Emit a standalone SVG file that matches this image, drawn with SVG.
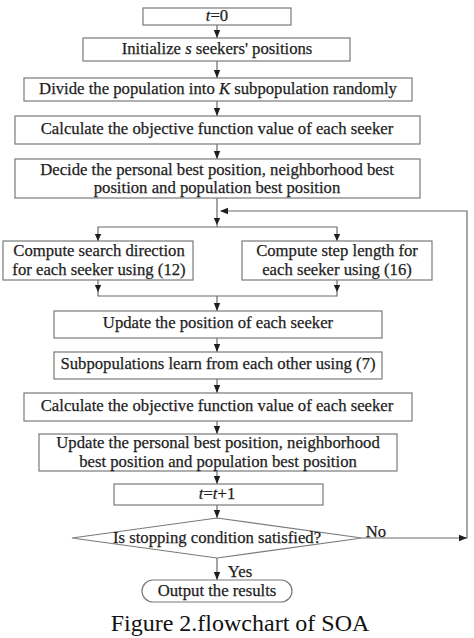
<svg xmlns="http://www.w3.org/2000/svg" width="474" height="638" viewBox="0 0 474 638">
<defs>
<style>
.box{fill:#fff;stroke:#7a7a7a;stroke-width:1.2}
.t{font-family:"Liberation Serif","Times New Roman",serif;font-size:16.7px;fill:#1e1e1e;stroke:#1e1e1e;stroke-width:0.25;text-anchor:middle}
.i{font-style:italic}
.ln{fill:none;stroke:#6a6a6a;stroke-width:1.2}
.ah{fill:#1e1e1e}
</style>
<marker id="arr" viewBox="0 0 8 8" refX="8" refY="4" markerWidth="8" markerHeight="8" markerUnits="userSpaceOnUse" orient="auto">
<path d="M0,0.8 L8,4 L0,7.2 Z" fill="#1e1e1e"/>
</marker>
</defs>
<rect width="474" height="638" fill="#fff"/>

<g id="connectors">
<line class="ln" x1="217" y1="25" x2="217" y2="38" marker-end="url(#arr)"/>
<line class="ln" x1="217" y1="61" x2="217" y2="78" marker-end="url(#arr)"/>
<line class="ln" x1="217" y1="101" x2="217" y2="116" marker-end="url(#arr)"/>
<line class="ln" x1="217" y1="144" x2="217" y2="159" marker-end="url(#arr)"/>
<line class="ln" x1="217" y1="198" x2="217" y2="227"/>
<polygon class="ah" points="213.8,218 220.2,218 217,225"/>
<polyline class="ln" points="362,538 467,538 467,211 221,211"/>
<polygon class="ah" points="220,211 228,207.8 228,214.2"/>
<polygon class="ah" points="467,538 459,534.8 459,541.2"/>
<polyline class="ln" points="98,241 98,227 337,227 337,241"/>
<polygon class="ah" points="94.8,234 101.2,234 98,241"/>
<polygon class="ah" points="333.8,234 340.2,234 337,241"/>
<polyline class="ln" points="98,280 98,296 337,296 337,280"/>
<polygon class="ah" points="94.8,285 101.2,285 98,292"/>
<polygon class="ah" points="333.8,285 340.2,285 337,292"/>
<line class="ln" x1="217" y1="296" x2="217" y2="311" marker-end="url(#arr)"/>
<line class="ln" x1="217" y1="338" x2="217" y2="352" marker-end="url(#arr)"/>
<line class="ln" x1="217" y1="379" x2="217" y2="393" marker-end="url(#arr)"/>
<line class="ln" x1="217" y1="421" x2="217" y2="434" marker-end="url(#arr)"/>
<line class="ln" x1="217" y1="471" x2="217" y2="484" marker-end="url(#arr)"/>
<line class="ln" x1="217" y1="505" x2="217" y2="518" marker-end="url(#arr)"/>
<line class="ln" x1="217" y1="558" x2="217" y2="580" marker-end="url(#arr)"/>
<text class="t" x="376" y="537">No</text>
<text class="t" x="240" y="577">Yes</text>
</g>

<g id="n_t0">
<rect class="box" x="143" y="8" width="148" height="17"/>
<text class="t" x="217" y="21"><tspan class="i">t</tspan>=0</text>
</g>
<g id="n_init">
<rect class="box" x="83" y="38" width="267" height="23"/>
<text class="t" x="217" y="54">Initialize <tspan class="i">s</tspan> seekers' positions</text>
</g>
<g id="n_divide">
<rect class="box" x="24" y="78" width="388" height="23"/>
<text class="t" x="218" y="94">Divide the population into <tspan class="i">K</tspan> subpopulation randomly</text>
</g>
<g id="n_calc1">
<rect class="box" x="15" y="116" width="405" height="28"/>
<text class="t" x="217" y="134">Calculate the objective function value of each seeker</text>
</g>
<g id="n_decide">
<rect class="box" x="15" y="159" width="405" height="39"/>
<text class="t" x="217" y="175">Decide the personal best position, neighborhood best</text>
<text class="t" x="217" y="193">position and population best position</text>
</g>
<g id="n_dir">
<rect class="box" x="3" y="241" width="190" height="39"/>
<text class="t" x="99" y="256">Compute search direction</text>
<text class="t" x="99" y="275">for each seeker using (12)</text>
</g>
<g id="n_step">
<rect class="box" x="242" y="241" width="190" height="39"/>
<text class="t" x="337" y="256">Compute step length for</text>
<text class="t" x="337" y="275">each seeker using (16)</text>
</g>
<g id="n_update">
<rect class="box" x="54" y="311" width="328" height="27"/>
<text class="t" x="218" y="328">Update the position of each seeker</text>
</g>
<g id="n_learn">
<rect class="box" x="54" y="352" width="328" height="27"/>
<text class="t" x="218" y="369">Subpopulations learn from each other using (7)</text>
</g>
<g id="n_calc2">
<rect class="box" x="24" y="393" width="388" height="28"/>
<text class="t" x="217" y="411">Calculate the objective function value of each seeker</text>
</g>
<g id="n_best">
<rect class="box" x="39" y="434" width="358" height="37"/>
<text class="t" x="218" y="448">Update the personal best position, neighborhood</text>
<text class="t" x="218" y="467">best position and population best position</text>
</g>
<g id="n_tinc">
<rect class="box" x="114" y="484" width="209" height="21"/>
<text class="t" x="217" y="499"><tspan class="i">t</tspan>=<tspan class="i">t</tspan>+1</text>
</g>
<g id="n_stop">
<polygon class="box" points="217,518 362,538 217,558 72,538"/>
<text class="t" x="217" y="543">Is stopping condition satisfied?</text>
</g>
<g id="n_out">
<rect class="box" x="142" y="580" width="150" height="22" rx="11" ry="11"/>
<text class="t" x="217" y="596">Output the results</text>
</g>
<text id="caption" x="240" y="631" style="font-family:'Liberation Serif','Times New Roman',serif;font-size:24px;fill:#111;text-anchor:middle">Figure 2.flowchart of SOA</text>
</svg>
